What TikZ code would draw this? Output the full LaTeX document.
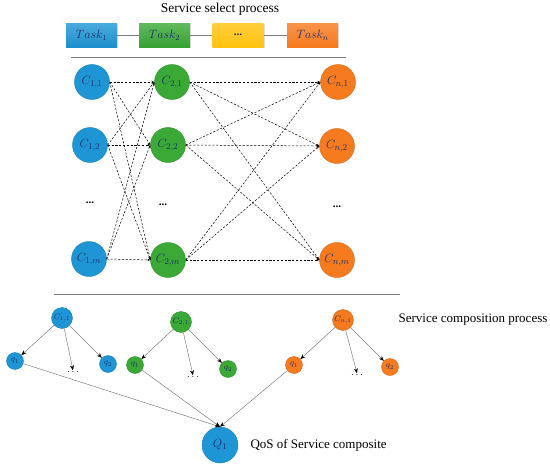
\documentclass[tikz,border=0pt]{standalone}
\usepackage{fontspec}
\setmainfont{Liberation Serif}
\usetikzlibrary{arrows.meta,shadows}
\definecolor{cblue}{HTML}{1E96D6}
\definecolor{cgreen}{HTML}{3AA935}
\definecolor{corange}{HTML}{F67A1E}
\definecolor{cyellow}{HTML}{FFC20E}
\definecolor{cnavy}{HTML}{1F2F6B}
\definecolor{lgray}{HTML}{7F7F7F}
\begin{document}
\begin{tikzpicture}[x=1pt,y=-1pt,
  taskbox/.style={rectangle, minimum width=51pt, minimum height=24pt, inner sep=0pt,
     font=\fontsize{12}{14}\selectfont, text=cnavy, drop shadow={opacity=0.25,shadow xshift=1pt,shadow yshift=-1pt}},
  bigc/.style={circle, minimum size=35pt, inner sep=0pt, fill=#1, draw=#1!85!black, line width=0.4pt,
     text=cnavy, font=\fontsize{12.5}{14}\selectfont},
  smallc/.style={circle, minimum size=21pt, inner sep=0pt, fill=#1, draw=#1!85!black, line width=0.4pt,
     text=cnavy, font=\fontsize{8}{9}\selectfont},
  qc/.style={circle, minimum size=17pt, inner sep=0pt, fill=#1, draw=#1!85!black, line width=0.4pt,
     text=cnavy, font=\fontsize{8.5}{9}\selectfont},
  dotsn/.style={inner sep=1pt, font=\fontsize{11}{12}\selectfont\bfseries},
  sep/.style={draw=lgray, line width=0.8pt},
  dline/.style={dash pattern=on 2.2pt off 1.6pt, line width=0.5pt, black, -{Stealth[length=3pt,width=2.2pt]}},
  tline/.style={draw=lgray, line width=0.5pt, -{Stealth[length=5pt,width=4pt,black]}},
  txt/.style={font=\fontsize{13}{15}\selectfont}
]
\useasboundingbox (0,0) rectangle (550,466);

% top
\node[txt, font=\fontsize{13.5}{15}\selectfont] (title) at (220,9) {Service select process};
\node[taskbox, top color=cblue!80!white, bottom color=cblue!95!black] (t1) at (91.5,35) {$Task_1$};
\node[taskbox, top color=cgreen!80!white, bottom color=cgreen!95!black] (t2) at (164.5,35) {$Task_2$};
\node[taskbox, top color=cyellow!80!white, bottom color=cyellow, font=\fontsize{11}{12}\selectfont\bfseries] (t3) at (238,35) {...};
\node[taskbox, top color=corange!80!white, bottom color=corange] (tn) at (312.5,35) {$Task_n$};
\draw[draw=lgray, line width=0.5pt] (t1) -- (t2) (t2) -- (t3) (t3) -- (tn);
\coordinate (s1a) at (71,57);
\coordinate (s1b) at (346,57);
\draw[sep] (s1a) -- (s1b);

% middle grid
\node[bigc=cblue] (c11) at (92,82) {$C_{1,1}$};
\node[bigc=cblue] (c12) at (90,145) {$C_{1,2}$};
\node[bigc=cblue] (c1m) at (89,259) {$C_{1,m}$};
\node[bigc=cgreen] (c21) at (172,82) {$C_{2,1}$};
\node[bigc=cgreen] (c22) at (168,145) {$C_{2,2}$};
\node[bigc=cgreen] (c2m) at (168,260) {$C_{2,m}$};
\node[bigc=corange] (cn1) at (338,82) {$C_{n,1}$};
\node[bigc=corange] (cn2) at (337,146) {$C_{n,2}$};
\node[bigc=corange] (cnm) at (337,260) {$C_{n,m}$};
\node[dotsn] (d1) at (90,203) {...};
\node[dotsn] (d2) at (163,205) {...};
\node[dotsn] (dn) at (337,207) {...};

\foreach \a in {c11,c12,c1m}
  \foreach \b in {c21,c22,c2m}
    \draw[dline] (\a.east) -- (\b.west);
\foreach \a in {c21,c22,c2m}
  \foreach \b in {cn1,cn2,cnm}
    \draw[dline] (\a.east) -- (\b.west);

\coordinate (s2a) at (54,294);
\coordinate (s2b) at (400,294);
\draw[sep] (s2a) -- (s2b);

% bottom trees
\node[smallc=cblue] (b1) at (62,318) {$C_{1,1}$};
\node[qc=cblue] (b1q1) at (15,361) {$q_1$};
\node[dotsn, font=\fontsize{10}{12}\selectfont] (b1d) at (73,372) {$\ldots$};
\node[qc=cblue] (b1q2) at (108,364) {$q_2$};
\draw[tline] (b1) -- (b1q1);
\draw[tline] (b1) -- (b1d.north);
\draw[tline] (b1) -- (b1q2);

\node[smallc=cgreen] (b2) at (181,322) {$C_{2,1}$};
\node[qc=cgreen] (b2q1) at (135,365) {$q_1$};
\node[dotsn, font=\fontsize{10}{12}\selectfont] (b2d) at (193,377) {$\ldots$};
\node[qc=cgreen] (b2q2) at (228,369) {$q_2$};
\draw[tline] (b2) -- (b2q1);
\draw[tline] (b2) -- (b2d.north);
\draw[tline] (b2) -- (b2q2);

\node[smallc=corange] (bn) at (343,320) {$C_{n,1}$};
\node[qc=corange] (bnq1) at (294,365) {$q_1$};
\node[dotsn, font=\fontsize{10}{12}\selectfont] (bnd) at (357,375) {$\ldots$};
\node[qc=corange] (bnq2) at (390,367) {$q_2$};
\draw[tline] (bn) -- (bnq1);
\draw[tline] (bn) -- (bnd.north);
\draw[tline] (bn) -- (bnq2);

\node[txt] (sc) at (473,320) {Service composition process};

\node[bigc=cblue, minimum size=36pt] (Q) at (220,445) {$Q_1$};
\node[txt, anchor=west] (qos) at (247,445) {QoS of Service composite};
\draw[tline] (b1q1) -- (Q.north);
\draw[tline] (b2q1) -- (Q.north);
\draw[tline] (bnq1) -- (Q.north);
\end{tikzpicture}
\end{document}
